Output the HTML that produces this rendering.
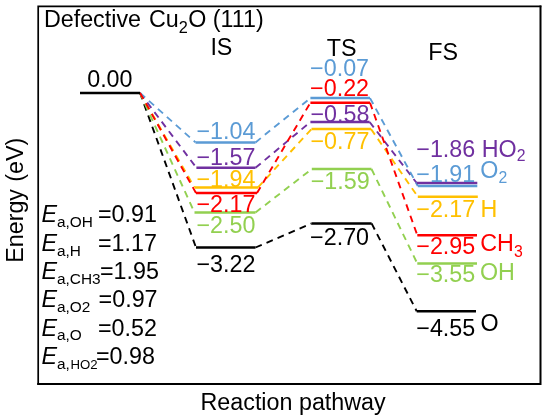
<!DOCTYPE html>
<html><head><meta charset="utf-8"><title>Energy profile</title>
<style>
html,body{margin:0;padding:0;background:#fff;}
svg{display:block;}
text{font-family:"Liberation Sans",sans-serif;font-size:23.3px;}
</style></head><body>
<svg width="550" height="420" viewBox="0 0 550 420">
<rect width="550" height="420" fill="#fff"/>
<g stroke="#000" fill="none" stroke-linecap="square">
<path stroke-width="1.7" d="M38.2 383.9 V6.4 H540.5"/>
<path stroke-width="2" d="M540.5 6.4 V383.9 H38.2"/>
</g>
<g fill="none" stroke-width="1.9" stroke-dasharray="6.8 5.2">
<path stroke="#000000" d="M140.0 92.9 L196.0 247.5 M255.5 247.5 L311.5 223.4 M371.6 223.4 L416.7 311.2"/>
<path stroke="#92D050" d="M140.0 92.9 L194.5 212.5 M255.5 212.5 L311.8 169.0 M371.5 169.0 L417.3 263.5"/>
<path stroke="#FFC000" d="M140.0 92.9 L194.5 187.4 M258.0 187.4 L311.5 129.0 M371.0 129.0 L417.8 196.7"/>
<path stroke="#7030A0" d="M140.0 92.9 L196.4 167.8 M255.5 167.8 L310.4 122.0 M369.6 122.0 L416.7 183.0"/>
<path stroke="#5B9BD5" d="M140.0 92.9 L195.5 142.4 M255.5 142.4 L310.4 98.1 M370.0 98.1 L417.8 186.0"/>
<path stroke="#FF0000" d="M140.0 92.9 L196.0 193.0 M257.0 193.0 L310.4 102.7 M370.0 102.7 L417.3 235.2"/>
</g>
<g fill="none" stroke-width="2.5">
<path stroke="#000" d="M80 92.9 H140"/>
<path stroke="#000000" d="M196.0 247.5 H255.5 M311.5 223.4 H371.6 M416.7 311.2 H476.0"/>
<path stroke="#92D050" d="M194.5 212.5 H255.5 M311.8 169.0 H371.5 M417.3 263.5 H477.0"/>
<path stroke="#FFC000" d="M194.5 187.4 H258.0 M311.5 129.0 H371.0 M417.8 196.7 H477.8"/>
<path stroke="#7030A0" d="M196.4 167.8 H255.5 M310.4 122.0 H369.6 M416.7 183.0 H477.3"/>
<path stroke="#5B9BD5" d="M195.5 142.4 H255.5 M310.4 98.1 H370.0 M417.8 186.0 H477.3"/>
<path stroke="#FF0000" d="M196.0 193.0 H257.0 M310.4 102.7 H370.0 M417.3 235.2 H477.0"/>
</g>
<text x="87.2" y="86.5" fill="#000000">0.00</text>
<text x="196.5" y="139.0" fill="#5B9BD5">−1.04</text>
<text x="196.5" y="164.8" fill="#7030A0">−1.57</text>
<text x="196.5" y="187.2" fill="#FFC000">−1.94</text>
<text x="196.5" y="211.6" fill="#FF0000">−2.17</text>
<text x="196.5" y="233.0" fill="#92D050">−2.50</text>
<text x="196.5" y="271.7" fill="#000000">−3.22</text>
<text x="310.1" y="75.5" fill="#5B9BD5">−0.07</text>
<text x="310.1" y="95.6" fill="#FF0000">−0.22</text>
<text x="310.4" y="121.6" fill="#7030A0">−0.58</text>
<text x="310.4" y="148.9" fill="#FFC000">−0.77</text>
<text x="310.7" y="188.9" fill="#92D050">−1.59</text>
<text x="310.1" y="244.9" fill="#000000">−2.70</text>
<text x="416.3" y="157.2" fill="#7030A0">−1.86</text>
<text x="416.3" y="181.5" fill="#5B9BD5">−1.91</text>
<text x="416.3" y="216.7" fill="#FFC000">−2.17</text>
<text x="416.3" y="253.8" fill="#FF0000">−2.95</text>
<text x="416.3" y="282.2" fill="#92D050">−3.55</text>
<text x="416.3" y="335.6" fill="#000000">−4.55</text>
<text x="481.7" y="156.5" fill="#7030A0">HO<tspan font-size="15.8" dy="4.8">2</tspan></text>
<text x="480.3" y="178.3" fill="#5B9BD5">O<tspan font-size="15.8" dy="4.8">2</tspan></text>
<text x="480.5" y="216.5" fill="#FFC000">H</text>
<text x="480.3" y="251.2" fill="#FF0000">CH<tspan font-size="15.8" dy="5.3">3</tspan></text>
<text x="479.9" y="279.6" fill="#92D050">OH</text>
<text x="480.4" y="330.8" fill="#000000">O</text>
<text x="43.9" y="27.4" fill="#000000" font-size="22.8">Defective</text>
<text x="149.0" y="26.9" fill="#000000" font-size="23.5">Cu<tspan font-size="16.3" dy="5.6">2</tspan><tspan dy="-5.6" dx="0.4">O (111)</tspan></text>
<text x="210.4" y="55.1" fill="#000000" font-size="22.9">IS</text>
<text x="326.8" y="55.6" fill="#000000">TS</text>
<text x="428.3" y="59.7" fill="#000000">FS</text>
<text x="41.4" y="221.8" font-size="21.7"><tspan font-style="italic">E</tspan><tspan font-size="15.4" dy="5.2">a,OH</tspan></text>
<text x="98.0" y="222.2" fill="#000000" font-size="22.8">=0.91</text>
<text x="41.4" y="250.8" font-size="21.7"><tspan font-style="italic">E</tspan><tspan font-size="15.4" dy="5.2">a,H</tspan></text>
<text x="98.0" y="250.9" fill="#000000" font-size="22.8">=1.17</text>
<text x="41.4" y="279.0" font-size="21.7"><tspan font-style="italic">E</tspan><tspan font-size="15.4" dy="5.2">a,CH3</tspan></text>
<text x="99.9" y="278.9" fill="#000000" font-size="22.8">=1.95</text>
<text x="41.4" y="307.0" font-size="21.7"><tspan font-style="italic">E</tspan><tspan font-size="15.4" dy="5.0">a,O2</tspan></text>
<text x="98.6" y="306.9" fill="#000000" font-size="22.8">=0.97</text>
<text x="41.4" y="335.5" font-size="21.7"><tspan font-style="italic">E</tspan><tspan font-size="15.4" dy="4.9">a,O</tspan></text>
<text x="98.0" y="335.7" fill="#000000" font-size="22.8">=0.52</text>
<text x="41.4" y="364.3" font-size="21.7"><tspan font-style="italic">E</tspan><tspan font-size="15.4" dy="4.5">a,<tspan font-size="13.2" dx="0.6">HO2</tspan></tspan></text>
<text x="96.0" y="364.2" fill="#000000" font-size="22.8">=0.98</text>
<text x="200.5" y="410.3" font-size="23.1">Reaction pathway</text>
<text transform="translate(23.3 262.8) rotate(-90)" font-size="23.2" word-spacing="0.8">Energy (eV)</text>
</svg>
</body></html>
